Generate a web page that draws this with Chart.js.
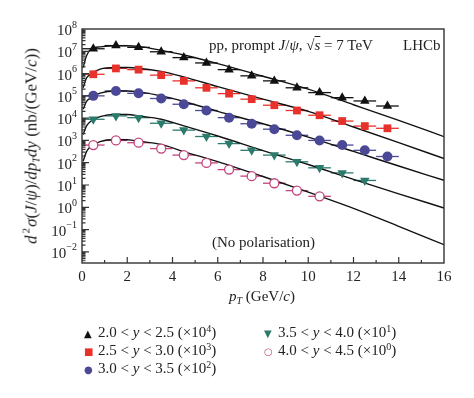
<!DOCTYPE html>
<html>
<head>
<meta charset="utf-8">
<script src="https://cdn.jsdelivr.net/npm/chart.js@4/dist/chart.umd.min.js"></script>
<style>
  body { margin: 0; background: #fff; }
  #wrap { position: relative; width: 474px; height: 398px; font-family: "Liberation Serif", serif; color: #222; }
  #wrap canvas { position: absolute; left: 0; top: 0; }
  .txt { position: absolute; font-size: 15px; white-space: nowrap; line-height: 1; }
  .txt sup { font-size: 10px; vertical-align: 5px; }
  .txt sub { font-size: 10px; vertical-align: -3px; }
  .ov { text-decoration: overline; }
  .mk { display: inline-block; width: 14px; font-family: "DejaVu Sans", sans-serif; font-size: 10px; }
</style>
</head>
<body>
<div id="wrap">
  <canvas id="chart" width="474" height="398"></canvas>
  <div class="txt" style="left:209px;top:38px">pp, prompt <i>J</i>/<i>ψ</i>, √<span class="ov"><i>s</i></span> = 7 TeV</div>
  <div class="txt" style="left:403px;top:38px">LHCb</div>
  <div class="txt" style="left:212px;top:235px">(No polarisation)</div>
  <div class="txt" style="left:229px;top:289px"><i>p</i><sub><i>T</i></sub> (GeV/<i>c</i>)</div>
  <div class="txt" style="left:31px;top:146px;font-size:17px;transform:translate(-50%,-50%) rotate(-90deg)"><i>d</i><sup style="font-size:11px;vertical-align:7px;margin:0 1px 0 2px">2</sup><i>σ</i>(<i>J</i>/<i>ψ</i>)/<i>dp</i><sub><i>T</i></sub><i>dy</i> (nb/(GeV/<i>c</i>))</div>
  <div id="legend"></div>
</div>
<script>
// bin centres in pT (GeV/c), half width of each bin
const ptBins = [0.5, 1.5, 2.5, 3.5, 4.5, 5.5, 6.5, 7.5, 8.5, 9.5, 10.5, 11.5, 12.5, 13.5];
const binHalf = 0.5;

// measured points (already scaled as plotted)
const y20_25 = [1.3e7, 1.8e7, 1.5e7, 9.5e6, 5.2e6, 3.0e6, 1.5e6, 7.9e5, 4.7e5, 2.3e5, 1.4e5, 8.3e4, 5.9e4, 3.5e4];
const y25_30 = [9.3e5, 1.7e6, 1.5e6, 8.5e5, 4.7e5, 2.3e5, 1.26e5, 7.1e4, 3.8e4, 2.2e4, 1.35e4, 7.4e3, 4.4e3, 3.5e3];
const y30_35 = [1.0e5, 1.66e5, 1.3e5, 7.6e4, 4.2e4, 2.2e4, 1.05e4, 5.6e3, 3.2e3, 1.7e3, 1.0e3, 6.2e2, 3.6e2, 1.9e2];
const y35_40 = [8.9e3, 1.26e4, 1.05e4, 5.9e3, 2.9e3, 1.5e3, 7.2e2, 3.6e2, 2.2e2, 1.1e2, 59, 35, 16];
const y40_45 = [6.2e2, 1.0e3, 7.9e2, 4.3e2, 2.2e2, 98, 49, 25, 12, 5.6, 3.1];

// theory curves (no polarisation)
const curvePt = [0.05, 0.2, 0.4, 0.8, 1.5, 2.0, 2.5, 3.5, 4.5, 6, 8, 10, 12, 14, 16];
const th20_25 = [1.86e6, 6.3e6, 1.26e7, 1.58e7, 1.78e7, 1.78e7, 1.66e7, 1.1e7, 6.8e6, 2.8e6, 7.6e5, 2.0e5, 4.0e4, 7.9e3, 1.48e3];
const th25_30 = [2.3e5, 6.3e5, 9.5e5, 1.58e6, 1.86e6, 1.86e6, 1.74e6, 1.26e6, 7.1e5, 2.6e5, 7.1e4, 2.0e4, 4.0e3, 7.9e2, 1.55e2];
const th30_35 = [2.5e4, 5.6e4, 8.3e4, 1.32e5, 1.66e5, 1.66e5, 1.51e5, 1.0e5, 5.6e4, 2.0e4, 5.6e3, 1.41e3, 3.2e2, 71, 16.2];
const th35_40 = [1.86e3, 4.5e3, 7.4e3, 1.17e4, 1.48e4, 1.45e4, 1.26e4, 8.9e3, 4.5e3, 1.58e3, 3.5e2, 83, 17.8, 4.0, 0.93];
const th40_45 = [117, 316, 550, 891, 1.1e3, 1.07e3, 933, 661, 316, 112, 24, 4.8, 0.89, 0.14, 0.021];

const xTicks = [0, 2, 4, 6, 8, 10, 12, 14, 16];
const yPowers = [-2, -1, 0, 1, 2, 3, 4, 5, 6, 7, 8];

const series = [
  { name: '2.0 &lt; <i>y</i> &lt; 2.5 (×10<sup>4</sup>)', vals: y20_25, theory: th20_25, color: '#111111', style: 'triangle', rot: 0, r: 5.5, fill: true, glyph: '▲' },
  { name: '2.5 &lt; <i>y</i> &lt; 3.0 (×10<sup>3</sup>)', vals: y25_30, theory: th25_30, color: '#e8312b', style: 'rect', rot: 0, r: 5.5, fill: true, glyph: '■' },
  { name: '3.0 &lt; <i>y</i> &lt; 3.5 (×10<sup>2</sup>)', vals: y30_35, theory: th30_35, color: '#4b4897', style: 'circle', rot: 0, r: 5, fill: true, glyph: '●' },
  { name: '3.5 &lt; <i>y</i> &lt; 4.0 (×10<sup>1</sup>)', vals: y35_40, theory: th35_40, color: '#2b7a6c', style: 'triangle', rot: 180, r: 5.5, fill: true, glyph: '▼' },
  { name: '4.0 &lt; <i>y</i> &lt; 4.5 (×10<sup>0</sup>)', vals: y40_45, theory: th40_45, color: '#c3447e', style: 'circle', rot: 0, r: 4.5, fill: false, glyph: '○' }
];

const datasets = [];
series.forEach(s => {
  datasets.push({
    data: s.vals.map((v, i) => ({ x: ptBins[i], y: v })),
    showLine: false,
    pointStyle: s.style,
    rotation: s.rot,
    pointRadius: s.r,
    backgroundColor: s.fill ? s.color : '#ffffff',
    borderColor: s.color,
    borderWidth: s.fill ? 0 : 1.3,
    errColor: s.color
  });
});
series.forEach(s => {
  datasets.push({
    data: s.theory.map((v, i) => ({ x: curvePt[i], y: v })),
    showLine: true,
    pointRadius: 0,
    borderColor: '#111111',
    borderWidth: 1.4,
    cubicInterpolationMode: 'monotone',
    fill: false
  });
});

const frameAndTicks = {
  id: 'frameAndTicks',
  beforeDatasetsDraw(chart) {
    const ctx = chart.ctx, xs = chart.scales.x, ys = chart.scales.y;
    ctx.save();
    chart.data.datasets.forEach(ds => {
      if (!ds.errColor) return;
      ctx.strokeStyle = ds.errColor;
      ctx.lineWidth = 1.3;
      ds.data.forEach(p => {
        const y = ys.getPixelForValue(p.y);
        ctx.beginPath();
        ctx.moveTo(xs.getPixelForValue(p.x - binHalf), y);
        ctx.lineTo(xs.getPixelForValue(p.x + binHalf), y);
        ctx.stroke();
      });
    });
    ctx.restore();
  },
  afterDraw(chart) {
    const ctx = chart.ctx, a = chart.chartArea, xs = chart.scales.x, ys = chart.scales.y;
    ctx.save();
    ctx.strokeStyle = '#333';
    ctx.lineWidth = 1.4;
    ctx.strokeRect(a.left, a.top, a.right - a.left, a.bottom - a.top);
    ctx.lineWidth = 1.2;
    ctx.beginPath();
    for (let v = 1; v < 16; v++) {
      const x = xs.getPixelForValue(v);
      const len = v % 2 === 0 ? 6 : 3;
      ctx.moveTo(x, a.bottom);
      ctx.lineTo(x, a.bottom - len);
    }
    for (let p = -3; p <= 7; p++) {
      for (let m = 1; m <= 9; m++) {
        const v = m * Math.pow(10, p);
        const y = ys.getPixelForValue(v);
        if (y < a.top + 0.5 || y > a.bottom - 0.5) continue;
        const len = m === 1 ? 7 : 3.5;
        ctx.moveTo(a.left, y);
        ctx.lineTo(a.left + len, y);
      }
    }
    ctx.stroke();
    // y tick labels 10^n
    ctx.fillStyle = '#222';
    ctx.textBaseline = 'middle';
    yPowers.forEach(n => {
      const y = ys.getPixelForValue(Math.pow(10, n));
      ctx.font = '15px "Liberation Serif"';
      const wBase = ctx.measureText('10').width;
      const expTxt = n < 0 ? '\u2212' + (-n) : String(n);
      ctx.font = '10px "Liberation Serif"';
      const wExp = ctx.measureText(expTxt).width;
      const x0 = 77 - wBase - wExp;
      ctx.font = '15px "Liberation Serif"';
      ctx.textAlign = 'left';
      ctx.fillText('10', x0, y + 2);
      ctx.font = '10px "Liberation Serif"';
      ctx.fillText(expTxt, x0 + wBase, y - 4);
    });
    ctx.restore();
  }
};

const chart = new Chart(document.getElementById('chart').getContext('2d'), {
  type: 'scatter',
  data: { datasets: datasets },
  options: {
    responsive: false,
    animation: false,
    devicePixelRatio: 1,
    layout: { padding: { left: 0, right: 30, top: 29, bottom: 0 } },
    plugins: { legend: { display: false }, tooltip: { enabled: false } },
    scales: {
      x: {
        type: 'linear', min: 0, max: 16,
        grid: { display: false, drawTicks: false },
        border: { display: false },
        ticks: {
          stepSize: 1, padding: 5, color: '#222',
          font: { family: 'Liberation Serif', size: 15 },
          callback: v => xTicks.includes(v) ? String(v) : ''
        },
        afterFit: s => { s.height = 135; }
      },
      y: {
        type: 'logarithmic', min: Math.pow(10, -2.5), max: 1e8,
        grid: { display: false, drawTicks: false },
        border: { display: false },
        ticks: { display: false },
        afterFit: s => { s.width = 82; }
      }
    }
  },
  plugins: [frameAndTicks]
});

// legend in two columns
const legend = document.getElementById('legend');
const legPos = [[84, 324], [84, 342], [84, 360], [264, 324], [264, 342]];
series.forEach((s, i) => {
  const d = document.createElement('div');
  d.className = 'txt';
  d.style.left = legPos[i][0] + 'px';
  d.style.top = legPos[i][1] + 'px';
  d.innerHTML = '<span class="mk" style="color:' + s.color + '">' + s.glyph + '</span>' + s.name;
  legend.appendChild(d);
});
</script>
</body>
</html>
